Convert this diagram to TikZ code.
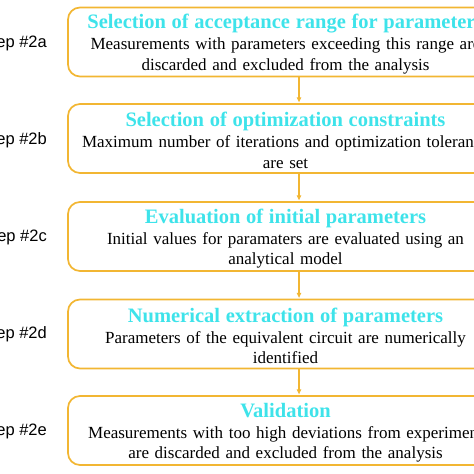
\documentclass[tikz,border=0pt]{standalone}
\usepackage{fontspec}
\setmainfont{Liberation Serif}
\newfontfamily\stepfont{Liberation Sans}
\usetikzlibrary{arrows.meta,positioning,calc}
\definecolor{boxgold}{HTML}{F2B632}
\definecolor{titlecyan}{HTML}{3EE3EA}
\newcommand{\boxtitle}[1]{{\color{titlecyan}\bfseries\fontsize{20.5}{22}\selectfont\rule{0pt}{18.5pt}#1}\\[0.5pt]}
\begin{document}
\begin{tikzpicture}[
    x=1pt, y=1pt,
    box/.style={draw=boxgold, line width=1.7pt, rounded corners=12pt, minimum width=435pt, minimum height=69pt, text width=430pt, align=center, inner sep=1pt, font=\fontsize{17}{20.5}\selectfont},
    steplbl/.style={anchor=east, inner sep=0pt, font=\stepfont\fontsize{16.5}{18}\selectfont},
    arr/.style={-{Triangle[length=5pt,width=4.5pt]}, draw=boxgold, line width=1.1pt, shorten >=0.8pt}
]
\useasboundingbox (0,0) rectangle (474,-474);
\clip (0,0) rectangle (474,-474);

\node[box] (s2a) at (285.5,-42) {\boxtitle{Selection of acceptance range for parameters}Measurements with parameters exceeding this range are\\discarded and excluded from the analysis};
\node[box] (s2b) at (285.5,-138.5) {\boxtitle{Selection of optimization constraints}Maximum number of iterations and optimization tolerance\\are set};
\node[box] (s2c) at (285.5,-236.5) {\boxtitle{Evaluation of initial parameters}Initial values for paramaters are evaluated using an\\analytical model};
\node[box] (s2d) at (285.5,-334) {\boxtitle{Numerical extraction of parameters}Parameters of the equivalent circuit are numerically\\identified};
\node[box] (s2e) at (285.5,-430.5) {\boxtitle{Validation}Measurements with too high deviations from experiment\\are discarded and excluded from the analysis};

\node[steplbl] (st2a) at (47,-43) {Step \#2a};
\node[steplbl] (st2b) at (47,-140) {Step \#2b};
\node[steplbl] (st2c) at (47,-237) {Step \#2c};
\node[steplbl] (st2d) at (47,-334) {Step \#2d};
\node[steplbl] (st2e) at (47,-431) {Step \#2e};

\draw[arr] ([xshift=13.5pt]s2a.south) -- ([xshift=13.5pt]s2b.north);
\draw[arr] ([xshift=13.5pt]s2b.south) -- ([xshift=13.5pt]s2c.north);
\draw[arr] ([xshift=13.5pt]s2c.south) -- ([xshift=13.5pt]s2d.north);
\draw[arr] ([xshift=13.5pt]s2d.south) -- ([xshift=13.5pt]s2e.north);
\end{tikzpicture}
\end{document}
